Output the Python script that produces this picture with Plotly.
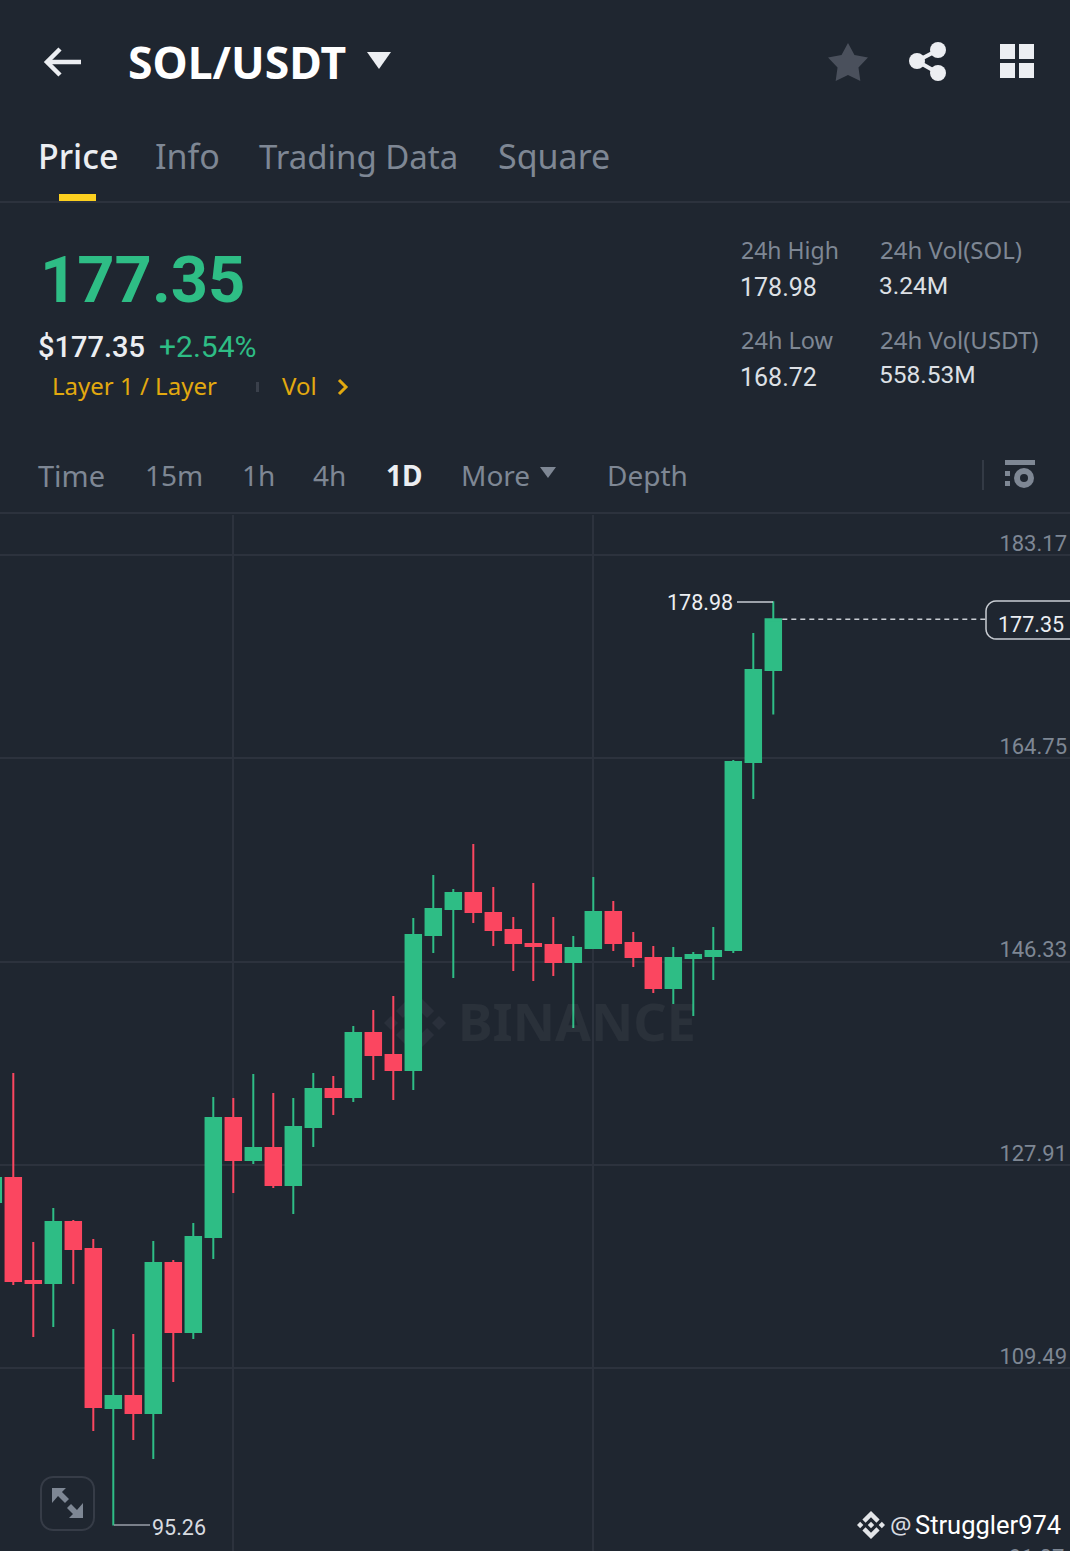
import math
import plotly.graph_objects as go

BG = "#1f2630"
GRID = "#2c323d"
GREEN = "#2ebd85"
RED = "#fb4660"
GREY = "#7e8794"
WHITE = "#eceef2"
YELLOW = "#e2a90f"

candle_index = list(range(40))
opens = [124.56,126.73,117.40,117.22,122.75,120.30,105.90,106.98,105.44,119.03,112.78,121.39,132.17,128.36,129.45,126.10,131.35,134.79,134.07,139.87,137.87,136.52,148.75,151.10,152.55,150.74,149.20,147.93,147.84,146.30,147.57,150.83,148.02,146.66,143.94,146.66,146.84,147.39,164.42,172.75]
highs = [128.36,136.24,120.93,124.01,122.93,121.21,113.05,112.60,121.03,119.30,122.66,134.07,133.98,136.15,134.43,133.98,136.24,135.97,140.50,141.95,143.22,150.29,154.18,152.91,156.99,153.09,150.38,153.46,150.38,148.65,154.00,151.83,149.02,147.75,147.66,147.21,149.47,164.60,176.10,178.98]
lows = [123.83,117.04,112.33,113.23,117.13,103.81,95.26,103.00,101.28,108.25,112.15,119.39,125.37,128.00,125.83,123.47,129.54,132.44,133.62,135.61,133.80,134.70,147.12,144.85,149.83,147.75,145.48,144.58,145.03,140.32,147.57,147.30,145.85,143.49,142.50,141.41,144.67,147.12,161.07,168.72]
closes = [126.73,117.40,117.22,122.75,120.30,105.99,106.98,105.44,119.03,112.78,121.39,132.17,128.36,129.45,126.10,131.35,134.79,134.07,139.87,137.87,136.52,148.75,151.10,152.55,150.83,149.20,148.02,147.75,146.30,147.57,150.83,148.02,146.75,143.94,146.66,146.93,147.30,164.42,172.75,177.35]

price_ticks = [183.17, 164.75, 146.33, 127.91, 109.49]
time_grid = [12, 30]
last_price = 177.35
high_price = 178.98
low_price = 95.26

W, H = 1070, 1551
CHART_TOP = 515


def px(x):
    return x / W


def py(y):
    return 1 - y / H


def path(points, close=True):
    s = " ".join(("M" if i == 0 else "L") + f"{px(a):.5f},{py(b):.5f}" for i, (a, b) in enumerate(points))
    return s + (" Z" if close else "")


shapes = []
annotations = []


def poly(points, color, layer="above"):
    shapes.append(dict(type="path", xref="paper", yref="paper", path=path(points), fillcolor=color, line=dict(width=0), layer=layer))


def stroke(points, color, width, dash="solid", layer="above"):
    shapes.append(dict(type="path", xref="paper", yref="paper", path=path(points, False), line=dict(color=color, width=width, dash=dash), layer=layer))


def rect(x0, y0, x1, y1, color, layer="above"):
    poly([(x0, y0), (x1, y0), (x1, y1), (x0, y1)], color, layer)


def circle(cx, cy, r, color):
    shapes.append(dict(type="circle", xref="paper", yref="paper", x0=px(cx - r), x1=px(cx + r), y0=py(cy + r), y1=py(cy - r), fillcolor=color, line=dict(width=0)))


def rounded(x0, y0, x1, y1, r, color, width, fill=None):
    pts = []
    for cx, cy, a0 in [(x1 - r, y0 + r, -90), (x1 - r, y1 - r, 0), (x0 + r, y1 - r, 90), (x0 + r, y0 + r, 180)]:
        for k in range(7):
            t = math.radians(a0 + 15 * k)
            pts.append((cx + r * math.cos(t), cy + r * math.sin(t)))
    shapes.append(dict(type="path", xref="paper", yref="paper", path=path(pts), line=dict(color=color, width=width), fillcolor=fill or "rgba(0,0,0,0)"))


def text(x, y, s, size, color, font="Noto Sans", anchor="left", bold=False, weight=None):
    f = dict(family=font, size=size, color=color)
    if weight:
        f["weight"] = weight
    annotations.append(dict(xref="paper", yref="paper", x=px(x), y=py(y), text=f"<b>{s}</b>" if bold else s, showarrow=False, xanchor=anchor, yanchor="middle", borderpad=0, font=f))


LOGO = [
    [(38.73, 53.2), (63.3, 28.63), (87.89, 53.22), (102.19, 38.92), (63.3, 0), (24.43, 38.9)],
    [(0, 63.31), (14.3, 49.01), (28.6, 63.31), (14.3, 77.61)],
    [(38.73, 73.41), (63.3, 97.98), (87.89, 73.39), (102.19, 87.69), (63.3, 126.61), (24.41, 87.71)],
    [(98.01, 63.31), (112.31, 49.01), (126.61, 63.31), (112.31, 77.61)],
    [(77.8, 63.3), (63.3, 48.8), (48.81, 63.29), (63.3, 77.78)],
]


def logo(cx, cy, size, color, layer="above"):
    k = size / 126.61
    for part in LOGO:
        poly([(cx + (a - 63.3) * k, cy + (b - 63.3) * k) for a, b in part], color, layer)


# header
stroke([(81, 62), (48, 62)], WHITE, 4.5)
stroke([(60, 49), (47, 62), (60, 75)], WHITE, 4.5)
text(127, 62, "SOL/USDT", 44.5, "#ffffff", bold=True)
poly([(367, 52), (391, 52), (379, 69)], WHITE)
star = []
for k in range(10):
    r = 21 if k % 2 == 0 else 11
    t = math.radians(-90 + 36 * k)
    star.append((848 + r * math.cos(t), 64 + r * math.sin(t)))
poly(star, "#4a505c")
stroke([(938, 50), (917, 61), (938, 73)], WHITE, 4)
circle(938, 50, 8, WHITE)
circle(917, 61, 8, WHITE)
circle(938, 73, 8, WHITE)
rect(1000, 44, 1015, 59, WHITE)
rect(1019, 44, 1034, 59, WHITE)
rect(1000, 63, 1015, 78, WHITE)
rect(1019, 63, 1034, 78, WHITE)

# tabs
text(37, 156, "Price", 34, WHITE, weight=500)
text(154, 156, "Info", 34, GREY)
text(258, 156, "Trading Data", 33, GREY)
text(497, 156, "Square", 34, GREY)
rect(59, 194, 96, 201, "#fcd01f")
rect(0, 201, W, 203, GRID)

# quote block
text(39, 280, "177.35", 65, GREEN, font="Roboto", bold=True)
text(37, 347, "$177.35", 29, WHITE, font="Roboto", weight=500)
text(158, 347, "+2.54%", 30, GREEN, font="Roboto")
text(51, 385, "Layer 1 / Layer", 24, YELLOW)
rect(256, 382, 259, 392, "#3a404b")
text(281, 385, "Vol", 24, YELLOW)
stroke([(339, 380), (346, 387), (339, 394)], YELLOW, 3)
text(740, 250, "24h High", 23, GREY)
text(739, 287, "178.98", 25, "#dde0e5", font="Roboto")
text(879, 249, "24h Vol(SOL)", 24, GREY)
text(878, 285, "3.24M", 24.5, "#dde0e5", font="Roboto")
text(740, 340, "24h Low", 23.5, GREY)
text(739, 377, "168.72", 25, "#dde0e5", font="Roboto")
text(879, 339, "24h Vol(USDT)", 24, GREY)
text(878, 375, "558.53M", 24.5, "#dde0e5", font="Roboto")

# interval bar
text(37, 475, "Time", 29, GREY)
text(144, 475, "15m", 28, GREY)
text(241, 475, "1h", 28, GREY)
text(312, 475, "4h", 28, GREY)
text(385, 475, "1D", 28, WHITE, bold=True)
text(460, 475, "More", 28, GREY)
poly([(540, 467), (556, 467), (548, 478)], GREY)
text(606, 475, "Depth", 28, GREY)
rect(982, 460, 984, 490, "#333a45")
rect(1005, 460, 1035, 465, GREY)
rect(1005, 471, 1010, 476, GREY)
rect(1005, 481, 1010, 486, GREY)
circle(1024, 478, 10, GREY)
circle(1024, 478, 4, BG)
rect(0, 512, W, 514, GRID)

# watermark below the candles
logo(415, 1023, 62, "#2a303b", layer="below")
text(457, 1020, "BINANCE", 52, "rgba(255,255,255,0.05)", font="Noto Sans", bold=True)

# last price marker
shapes.append(dict(type="line", xref="x", yref="y", x0=39.45, x1=49.6, y0=last_price, y1=last_price, line=dict(color="#c9cdd3", width=1.5, dash="5px,4px")))
rounded(986, 601, 1090, 639, 10, "#c9cdd3", 1.5, BG)
text(1065, 624, "177.35", 21.5, WHITE, font="Roboto", anchor="right")
# high and low markers
stroke([(737, 602), (773, 602)], "#c9cdd3", 1.5)
text(734, 602, "178.98", 21.5, WHITE, font="Roboto", anchor="right")
stroke([(114, 1525), (150, 1525)], "#9a9fa8", 1.5)
text(151, 1527, "95.26", 21.5, "#d8dbe0", font="Roboto")

# bottom-corner items
rounded(41, 1477, 94, 1530, 12, "#363c47", 2)
poly([(52, 1488), (66, 1488), (62, 1492), (69, 1499), (65, 1503), (58, 1496), (52, 1503)], GREY)
poly([(83, 1518), (69, 1518), (73, 1514), (67, 1508), (71, 1504), (77, 1510), (83, 1503)], GREY)
logo(871, 1525, 28, "#e3e5e8")
text(889, 1524, "@", 24, "#d8dbe0")
text(914, 1525, "Struggler974", 25.5, "#ffffff", font="Roboto")
text(1065, 1558, "91.07", 22, GREY, font="Roboto", anchor="right")

fig = go.Figure(go.Candlestick(
    x=candle_index,
    open=opens,
    high=highs,
    low=lows,
    close=closes,
    whiskerwidth=0,
    increasing=dict(line=dict(color=GREEN, width=2), fillcolor=GREEN),
    decreasing=dict(line=dict(color=RED, width=2), fillcolor=RED),
    showlegend=False,
    hoverinfo="skip",
))

fig.update_layout(
    width=W,
    height=H,
    margin=dict(l=0, r=0, t=0, b=0),
    paper_bgcolor=BG,
    plot_bgcolor=BG,
    boxgap=0.225,
    boxgroupgap=0,
    showlegend=False,
    shapes=shapes,
    annotations=annotations,
    xaxis=dict(
        range=[0.335, 53.835],
        rangeslider=dict(visible=False),
        tickvals=time_grid,
        showticklabels=False,
        ticks="",
        showgrid=True,
        gridcolor=GRID,
        gridwidth=1.5,
        zeroline=False,
        showline=False,
    ),
    yaxis=dict(
        domain=[0, (H - CHART_TOP) / H],
        range=[92.94, 186.79],
        side="right",
        ticklabelposition="inside",
        tickvals=price_ticks,
        ticktext=[f"{v:.2f}" for v in price_ticks],
        tickfont=dict(family="Roboto", size=22, color=GREY),
        ticklabelshift=-12,
        ticklabelstandoff=0,
        ticks="",
        showgrid=True,
        gridcolor=GRID,
        gridwidth=1.5,
        zeroline=False,
        showline=False,
    ),
)

fig.write_html(
    "out.html",
    config=dict(displayModeBar=False),
    post_script="document.body.style.margin='0';document.body.style.overflow='hidden';",
)
